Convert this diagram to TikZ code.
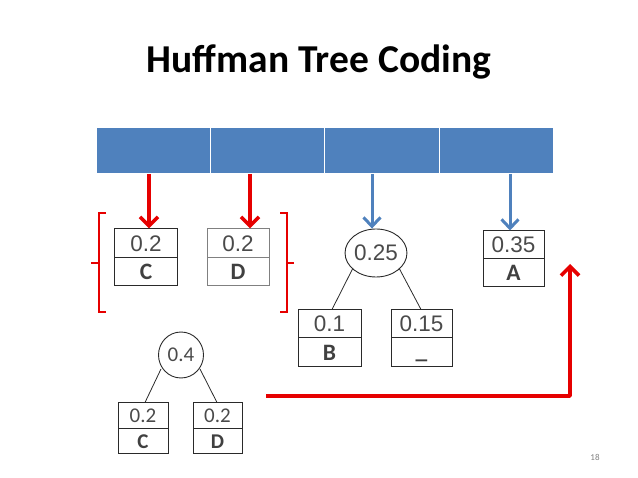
\documentclass[tikz,border=0pt]{standalone}
\usepackage{fontspec}
\setmainfont{Liberation Sans}
\newfontfamily\calib{Carlito}
\usetikzlibrary{arrows.meta,positioning,shapes.geometric}
\definecolor{barblue}{HTML}{4F81BD}
\definecolor{arrred}{HTML}{E60000}
\definecolor{numgray}{HTML}{4A4A4A}
\definecolor{edgegray}{HTML}{2A2A2A}
\tikzset{
  cell/.style={draw=edgegray,line width=1pt,inner sep=0pt,minimum width=#1},
  cell/.default=63pt,
  numtxt/.style={font=\fontsize{22.5}{22.5}\selectfont,text=numgray},
  lettxt/.style={font=\calib\bfseries\fontsize{23.5}{23.5}\selectfont,text=black!75},
  snum/.style={font=\calib\fontsize{21}{21}\selectfont,text=numgray},
  slet/.style={font=\calib\bfseries\fontsize{21}{21}\selectfont,text=black!75},
  barcell/.style={fill=barblue,draw=white,line width=0.8pt,minimum height=46pt,inner sep=0pt},
  redarrow/.style={draw=arrred,line width=3.6pt,-{Straight Barb[length=9pt,width=18pt,line width=3.6pt]}},
  bluearrow/.style={draw=barblue,line width=3pt,-{Straight Barb[length=9pt,width=17pt,line width=3pt]}},
  brk/.style={draw=arrred,line width=1.4pt},
  edge/.style={draw=edgegray,line width=0.8pt},
  circ/.style={draw=edgegray,line width=0.9pt,ellipse,inner sep=0pt}
}
\begin{document}
\begin{tikzpicture}[x=1pt,y=-1pt]
\useasboundingbox (0,0) rectangle (638,478);
% title
\node[font=\calib\bfseries\fontsize{39.5}{39.5}\selectfont,anchor=base] (title) at (319,73) {Huffman Tree Coding};
% bar
\node[barcell,minimum width=114pt] (b1) at (153,150) {};
\node[barcell,minimum width=114pt] (b2) at (267,150) {};
\node[barcell,minimum width=115pt] (b3) at (381.5,150) {};
\node[barcell,minimum width=114pt] (b4) at (496,150) {};
% box C
\node[cell,minimum height=29pt,numtxt] (c1) at (146,243.5) {0.2};
\node[cell,minimum height=28pt,lettxt] (c2) at (146,272) {C};
% box D
\node[cell=62pt,minimum height=29pt,numtxt,draw=gray] (d1) at (238,243.5) {0.2};
\node[cell=62pt,minimum height=28pt,lettxt,draw=gray] (d2) at (238,272) {D};
% box A
\node[cell=61pt,minimum height=28pt,numtxt] (a1) at (513.5,245) {0.35};
\node[cell=61pt,minimum height=28pt,lettxt] (a2) at (513.5,273) {A};
% circle 0.25
\node[circ,minimum width=54pt,minimum height=48pt,numtxt] (n25) at (376,253) {0.25};
% box B
\node[cell,minimum height=28pt,numtxt] (bb1) at (329.5,324) {0.1};
\node[cell,minimum height=29pt,lettxt] (bb2) at (329.5,352.5) {B};
% box _
\node[cell=61pt,minimum height=28pt,numtxt] (u1) at (421.5,324) {0.15};
\node[cell=61pt,minimum height=29pt,lettxt,text depth=0pt,text height=12pt] (u2) at (421.5,352.5) {\char95};
\coordinate (e1s) at (353,268); \coordinate (e1e) at (332,310);
\coordinate (e2s) at (399,268); \coordinate (e2e) at (421,310);
\draw[edge] (e1s) -- (bb1.north -| e1e);
\draw[edge] (e2s) -- (u1.north -| e2e);
% arrows from bar
\coordinate (r1) at (149,174);
\coordinate (r2) at (250,174);
\coordinate (q1) at (372,174);
\coordinate (q2) at (510,174);
\draw[redarrow] (r1) -- (r1 |- c1.north);
\draw[redarrow] (r2) -- (r2 |- d1.north);
\draw[bluearrow] (q1) -- (q1 |- n25.north);
\draw[bluearrow] (q2) -- (q2 |- a1.north);
% brackets
\coordinate (lb1) at (106,213); \coordinate (lb2) at (99,213);
\coordinate (lb3) at (99,312); \coordinate (lb4) at (106,312);
\coordinate (lbm) at (99,263); \coordinate (lbt) at (91,263);
\draw[brk] (lb1) -- (lb2) -- (lb3) -- (lb4);
\draw[brk] (lbm) -- (lbt);
\coordinate (rb1) at (280,213); \coordinate (rb2) at (287,213);
\coordinate (rb3) at (287,312); \coordinate (rb4) at (280,312);
\coordinate (rbm) at (287,263); \coordinate (rbt) at (294,263);
\draw[brk] (rb1) -- (rb2) -- (rb3) -- (rb4);
\draw[brk] (rbm) -- (rbt);
% bottom tree
\node[circ,minimum width=45pt,minimum height=46pt,snum] (n4) at (181,355) {0.4};
\node[cell=50pt,minimum height=26pt,snum] (sc1) at (143,416) {0.2};
\node[cell=50pt,minimum height=25pt,slet] (sc2) at (143,441.5) {C};
\node[cell=49pt,minimum height=26pt,snum] (sd1) at (217.5,416) {0.2};
\node[cell=49pt,minimum height=25pt,slet] (sd2) at (217.5,441.5) {D};
\coordinate (f1s) at (161,369); \coordinate (f1e) at (145,403);
\coordinate (f2s) at (200,369); \coordinate (f2e) at (217,403);
\draw[edge] (f1s) -- (sc1.north -| f1e);
\draw[edge] (f2s) -- (sd1.north -| f2e);
% L arrow
\coordinate (ls) at (266,396);
\coordinate (lc) at (570,396);
\coordinate (le) at (570,264);
\draw[redarrow,line join=round] (ls) -- (lc) -- (le);
% page number
\node[font=\calib\fontsize{9}{9}\selectfont,text=gray] (pg) at (595,457) {18};
\end{tikzpicture}
\end{document}
